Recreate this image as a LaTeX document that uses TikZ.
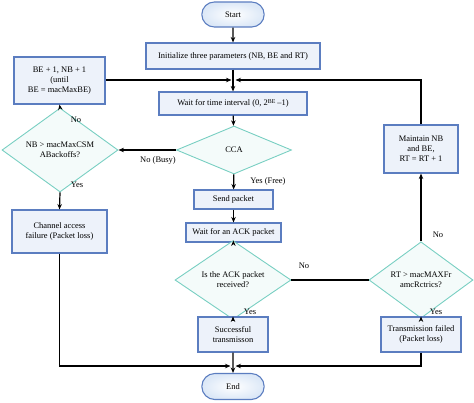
\documentclass[tikz,border=0pt]{standalone}
\usepackage{fontspec}
\setmainfont{Liberation Serif}
\usetikzlibrary{shapes.geometric,shapes.misc,arrows.meta}
\definecolor{boxline}{HTML}{5B7DC0}
\definecolor{boxfill}{HTML}{EDF2FA}
\definecolor{dialine}{HTML}{78CFC2}
\definecolor{diafill}{HTML}{F4FBFA}
\definecolor{termfill}{HTML}{DCE8F7}
\tikzset{
  stepbox/.style={draw=boxline, fill=boxfill, line width=1.1pt, align=center, inner sep=0pt, font=\fontsize{8.5}{10}\selectfont},
  decide/.style={diamond, draw=dialine, fill=diafill, line width=0.9pt, align=center, inner sep=0pt, font=\fontsize{8.5}{10}\selectfont},
  term/.style={rounded rectangle, draw=boxline, line width=1.1pt, inner color=white, outer color=termfill, minimum width=69bp, minimum height=25bp, font=\fontsize{8.5}{10}\selectfont},
  flow/.style={line width=1.2pt, -{Stealth[length=5.5pt,width=4.5pt]}},
  plain/.style={line width=1.2pt},
  lbl/.style={font=\fontsize{8.5}{10}\selectfont, inner sep=0pt}
}
\begin{document}
\begin{tikzpicture}[x=1bp,y=-1bp]
\useasboundingbox (0,0) rectangle (474,402);
% central column
\node[term] (start) at (233,14.5) {Start};
\node[stepbox, minimum width=174bp, minimum height=26bp] (init) at (233,56) {Initialize three parameters (NB, BE and RT)};
\node[stepbox, minimum width=148bp, minimum height=23bp] (wait) at (233,103.5) {Wait for time interval (0, 2\textsuperscript{BE}\,–1)};
\node[decide, minimum width=115bp, minimum height=48bp] (cca) at (234,150) {CCA};
\node[stepbox, minimum width=79bp, minimum height=19bp] (send) at (233.5,199.5) {Send packet};
\node[stepbox, minimum width=95bp, minimum height=19bp] (waitack) at (233.5,232.5) {Wait for an ACK packet};
\node[decide, minimum width=116bp, minimum height=46bp] (ack) at (233,280) {Is the ACK packet\\received?};
\node[stepbox, minimum width=70bp, minimum height=35bp] (succ) at (233,334.5) {Successful\\transmisson};
\node[term, minimum height=26bp] (end) at (233,386.5) {End};
% left column
\node[stepbox, minimum width=91bp, minimum height=47bp] (bump) at (59.5,80.5) {BE + 1, NB + 1\\(until\\BE = macMaxBE)};
\node[decide, minimum width=116bp, minimum height=46bp] (nb) at (60,150) {NB > macMaxCSM\\ABackoffs?};
\node[stepbox, minimum width=95bp, minimum height=43bp] (fail1) at (59.5,231.5) {Channel access\\failure (Packet loss)};
% right column
\node[stepbox, minimum width=74bp, minimum height=48bp] (keep) at (421,149) {Maintain NB\\and BE,\\RT = RT + 1};
\node[decide, minimum width=104bp, minimum height=53bp] (rt) at (421,280) {RT > macMAXFr\\amcRctrics?};
\node[stepbox, minimum width=80bp, minimum height=35bp] (fail2) at (421,334.5) {Transmission failed\\(Packet loss)};
% junctions
\coordinate (j1) at (233,80);
\coordinate (j2) at (233,366);
% connectors
\draw[flow] (start) -- (init);
\draw[flow] (init) -- (wait);
\draw[flow] (wait) -- (cca);
\draw[flow] (cca) -- (send);
\draw[flow] (send) -- (waitack);
\draw[flow] (waitack) -- (ack);
\draw[flow] (ack) -- (succ);
\draw[flow] (succ) -- (end);
\draw[flow] (bump.east |- j1) -- ([xshift=-1.5bp]j1);
\draw[flow] (keep.north) |- ([xshift=2.5bp]j1);
\draw[flow] (cca.west) -- (nb.east);
\draw[flow] (nb.north) -- (bump.south);
\draw[flow] (nb.south) -- (fail1.north);
\draw[flow] (fail1.south) |- ([xshift=-2.5bp]j2);
\draw[flow] (fail2.south) |- ([xshift=2.5bp]j2);
\draw[plain] (ack.east) -- (rt.west);
\draw[flow] (rt.north) -- (keep.south);
\draw[flow] (rt.south) -- (fail2.north);
% labels
\node[lbl] (l1) at (158,160) {No (Busy)};
\node[lbl] (l2) at (268,181) {Yes (Free)};
\node[lbl] (l3) at (76,120) {No};
\node[lbl] (l4) at (77,185) {Yes};
\node[lbl] (l5) at (304,266) {No};
\node[lbl] (l6) at (250,312) {Yes};
\node[lbl] (l7) at (438,235) {No};
\node[lbl] (l8) at (436,312) {Yes};
\end{tikzpicture}
\end{document}
